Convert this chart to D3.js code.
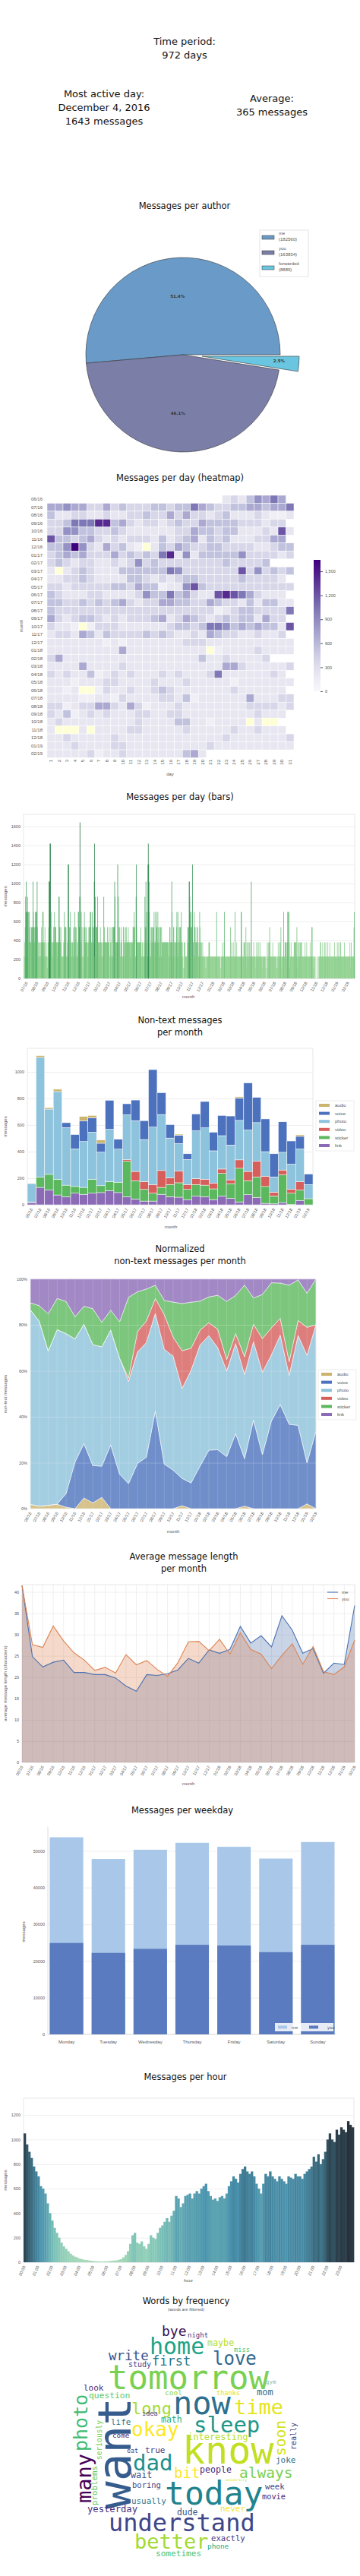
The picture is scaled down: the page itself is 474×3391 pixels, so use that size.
<!DOCTYPE html>
<html>
<head>
<meta charset="utf-8">
<script src="https://cdn.jsdelivr.net/npm/d3@7"></script>
<style>
  body { margin: 0; background: #fff; }
  text { font-family: "DejaVu Sans", sans-serif; }
  .tick text { fill: #555; font-size: 5.5px; font-family: "Liberation Sans", sans-serif; }
  .lbl { fill: #555; font-size: 6px; font-family: "Liberation Sans", sans-serif; }
  .title { font-size: 11.5px; fill: #111; text-anchor: middle; }
</style>
</head>
<body>
<svg id="page" width="474" height="3391"></svg>
<script>
// ---- data ----
const authors = ["me", "you", "forwarded"]
const authorCounts = [182560, 163834, 8889]

const months = ["06/16","07/16","08/16","09/16","10/16","11/16","12/16","01/17","02/17","03/17","04/17","05/17",
  "06/17","07/17","08/17","09/17","10/17","11/17","12/17","01/18","02/18","03/18","04/18","05/18",
  "06/18","07/18","08/18","09/18","10/18","11/18","12/18","01/19","02/19"]
const daysInMonth = [30,31,31,30,31,30,31,31,28,31,30,31,30,31,31,30,31,30,31,31,28,31,30,31,30,31,31,30,31,30,31,31,28]

// heatmap rows, one char per day: digit = level (see levelValues), X = 1643, y = no messages, . = no data
const heatRows = [
  "......................23246575.",
  "5565533534333443447543344554557",
  "4223322322334335353323422232112",
  "3347779945323323433544443332331",
  "3366443343222222335443442223282",
  "8443453232333242345243422233553",
  "446X63253421y243543344333322344",
  "3454533353434379262444446333323",
  "3432332232363433333333433334",
  "2y23432224444447633333338363434",
  "223343222244323234433333433332",
  "3323333344354412268433333333333",
  "432223322223644745322898753222",
  "4433434345323355443354332424422",
  "4333333333333333333331234433337",
  "532344323233345235432343442533",
  "3221y133322222234434776454544283",
  "233254243333434322325433223223",
  "2222222121222222233322222222222",
  "22222222252222222222y1222232222",
  "3522222222222222222422322223",
  "2222522223222222222222553222223",
  "323224123232223232223722222232",
  "2221222332222322232222212222222",
  "2212yy132232234322222223222222",
  "2222112213222233241222222522233",
  "3312335532531222322222222333323",
  "324123232223322332222222223222",
  "2322222222232222442212222y2yy",
  "2yyy2y222233222223222223223222",
  "2232222232222222222222322222223",
  "2223222233222222222232222222222",
  "22222312232222222452"
]
const levelValues = [0, 110, 230, 380, 540, 700, 860, 1020, 1200, 1420]

const mediaTypes = ["audio", "voice", "photo", "video", "sticker", "link"]
const audioCounts   = [3,13,11,17,4,0,31,17,24,0,0,0,0,0,0,0,0,7,0,0,0,0,0,0,9,0,0,0,0,0,0,11,0]
const voiceCounts   = [0,0,0,0,37,107,157,109,66,218,74,83,155,142,432,164,101,63,43,126,198,140,152,218,168,354,190,246,174,229,174,94,78]
const photoCounts   = [138,902,491,660,433,283,345,354,253,393,249,338,382,316,432,421,299,208,188,360,387,242,251,262,297,312,290,186,116,133,188,246,107]
const videoCounts   = [0,0,0,0,0,0,0,0,0,0,0,11,70,59,66,127,50,87,37,44,44,44,33,29,63,70,118,76,28,37,31,64,0]
const stickerCounts = [5,76,118,118,87,51,52,105,52,68,78,267,137,88,59,52,92,109,77,87,87,81,170,111,253,105,155,127,59,208,85,78,46]
const linkCounts    = [17,131,111,74,61,87,79,87,92,107,92,61,44,28,28,79,61,57,39,66,61,39,66,48,22,76,55,11,7,17,2,33,0]

const lengthMe  = [41.5,24.8,22.4,23.5,24,21.1,21.1,20.6,20.6,19.8,17.9,16.7,20.6,20.4,20.8,21.7,24.4,23.3,26.4,25.6,26.5,31.9,28,29.7,27.1,34.4,31,25.6,26.7,20.9,23.3,23,36.8]
const lengthYou = [41.5,27.6,27,32,28.5,25.7,24,21.6,22.3,21,25.3,22.9,23.9,21.8,20.2,23.4,28.3,28.4,26.2,28.9,25.4,30.4,26.5,25.4,22,25.1,27.8,23,27.2,21.3,20.6,22.4,28.7]

const weekdays = ["Monday","Tuesday","Wednesday","Thursday","Friday","Saturday","Sunday"]
const weekdayTotal = [53700,47800,50300,52200,51100,47900,52400]
const weekdayYou   = [24900,22200,23300,24400,24200,22400,24400]

// messages per 10 minutes, six bins per hour
const hourBins = [
  1050,960,900,850,780,740, 700,620,600,560,480,400, 340,280,240,200,160,130, 110,90,70,55,45,38,
  30,25,20,18,15,12, 10,8,8,6,6,8, 8,10,12,14,15,20, 25,40,60,90,150,220,
  240,160,150,170,130,110, 150,220,200,190,240,280, 300,330,360,330,380,420, 540,520,450,480,540,550,
  560,520,560,580,560,600, 620,640,580,540,510,520, 500,530,540,520,560,620, 660,700,680,650,720,760,
  780,740,720,740,700,640, 600,560,640,720,700,740, 700,680,660,700,680,660, 640,700,690,680,720,700,
  700,680,720,740,760,780, 860,820,880,800,840,900, 1000,1050,1000,980,1080,1040, 1100,1080,1060,1150,1120,1100
]
const hourLabels = d3.range(24).map(h => String(h).padStart(2, "0") + ":00")

const words   = ["want","know","tomorrow","today","now","understand","sleep","home","dad","many","time","better","okay","photo","love","long","soon","always","bit","bye","write","first","yesterday","question","interesting","mom","people","boring","wait","math","usually","life","true","look","joke","dude","never","sometimes","week","problems","exactly","movie","maybe","seriously","really","study","cool","come","night","phone","idea","miss","thanks","eat","gym","university"]
const wordSize = [61,50,44,43,42,32,29,30,29,27,27,27,26,25,24,22,19.5,19.5,19,18,17.5,17,12.2,11.3,12,12,11.6,10.5,11.8,11.5,10.9,11,11,11,11,11.4,11,11.1,10.7,10.8,10.6,10.3,11.7,9.6,10,10,9.5,9.3,9,9.4,8.6,8.7,8.6,8.3,7.4,4.7]
const wordColor = ["#365c8d","#c2df23","#7ad151","#21838e","#2d6f8e","#404688","#1f988b","#20a386","#21918c","#440154","#e5e419","#a2da37","#fde725","#3fbc73","#31688e","#a5db36","#d2e21b","#7ad151","#fde725","#3b0f50","#3b528b","#2a788e","#46327e","#5ec962","#b8de29","#2c728e","#482878","#3e4989","#3b528b","#29af7f","#2a788e","#2a788e","#433e85","#472d7b","#2c728e","#39568c","#f1e51d","#4ac16d","#3e4c8a","#5ec962","#453781","#472a7a","#b5de2b","#75d054","#414487","#414487","#86d549","#482576","#46337e","#22a884","#443983","#52c569","#dde318","#3e4989","#8fb8a0","#bddf26"]
// placement: left x, baseline y, rotation
const wordPlace = [
  [172,3303,-90],[240,3243,0],[142,3145,0],[217,3297,0],[228,3178,0],[143,3332,0],[255,3202,0],[197,3099,0],[175,3252,0],[120,3295,-90],[308,3178,0],[177,3355,0],[173,3207,0],[115,3227,-90],[280,3113,0],[173,3178,0],[376,3233,-90],[315,3262,0],[229,3262,0],[213,3075,0],[143,3107,0],[200,3114,0],[115,3307,0],[117,3157,0],[247,3212,0],[338,3153,0],[263,3255,0],[174,3275,0],[172,3262,0],[212,3189,0],[173,3296,0],[146,3192,0],[191,3229,0],[110,3147,0],[363,3242,0],[233,3311,0],[290,3306,0],[205,3365,0],[349,3277,0],[128,3298,-90],[278,3345,0],[345,3290,0],[273,3088,0],[134,3238,-90],[390,3225,-90],[169,3116,0],[217,3153,0],[148,3209,0],[247,3077,0],[273,3355,0],[187,3180,0],[308,3096,0],[285,3153,0],[167,3229,0],[350,3138,0],[297,3266,0]
]

// ---- helpers ----
const svg = d3.select("#page")
const rowVal = c => c === "X" ? 1643 : c === "y" ? 0 : levelValues[+c]

function title(lines, cx, y, size) {
  const t = svg.append("text").attr("class", "title").attr("x", cx).attr("y", y).style("font-size", (size || 11.5) + "px")
  lines.forEach((l, i) => t.append("tspan").attr("x", cx).attr("dy", i ? "1.4em" : 0).text(l))
}

function frame(x0, y0, x1, y1) {
  svg.append("rect").attr("x", x0).attr("y", y0).attr("width", x1 - x0).attr("height", y1 - y0)
    .attr("fill", "none").attr("stroke", "#e2e2e2").attr("stroke-width", 0.8)
}

function yGrid(y, x0, x1, ticks, fmt) {
  const g = svg.append("g").attr("transform", `translate(${x0},0)`)
    .call(d3.axisLeft(y).tickValues(ticks).tickSize(-(x1 - x0)).tickPadding(4).tickFormat(fmt || d3.format("d")))
  g.select(".domain").remove()
  g.selectAll(".tick line").attr("stroke", "#ebebeb").attr("stroke-width", 0.8)
  return g
}

function xRotLabels(labels, xs, y, angle) {
  labels.forEach((l, i) => {
    svg.append("text").attr("class", "lbl").style("font-size", "5.5px")
      .attr("transform", `translate(${xs[i]},${y}) rotate(${angle})`)
      .attr("text-anchor", "end").attr("dy", "0.35em").text(l)
  })
}

function yLabel(text, x, y) {
  svg.append("text").attr("class", "lbl").attr("text-anchor", "middle")
    .attr("transform", `translate(${x},${y}) rotate(-90)`).text(text)
}

// ---- header stats ----
title(["Time period:", "972 days"], 243, 59, 13)
title(["Most active day:", "December 4, 2016", "1643 messages"], 137, 128, 13)
title(["Average:", "365 messages"], 358, 134, 13)

// ---- pie ----
title(["Messages per author"], 243, 275)
const pieColors = ["#6a9bc8", "#7b7fa8", "#6ac6e0"]
const total = d3.sum(authorCounts)
const pie = d3.pie().sort(null).startAngle(Math.PI / 2).endAngle(Math.PI / 2 - 2 * Math.PI)(authorCounts)
const arc = d3.arc().innerRadius(0).outerRadius(128)
const pg = svg.append("g").attr("transform", "translate(241,467)")
pie.forEach((p, i) => {
  const mid = (p.startAngle + p.endAngle) / 2
  const off = i === 2 ? 25 : 0
  const g = pg.append("g").attr("transform", `translate(${off * Math.sin(mid)},${-off * Math.cos(mid)})`)
  g.append("path").attr("d", arc(p)).attr("fill", pieColors[i]).attr("stroke", "#333").attr("stroke-width", 0.6)
  g.append("text").attr("x", 0.6 * 128 * Math.sin(mid) + (i === 2 ? 25 : -4)).attr("y", -0.6 * 128 * Math.cos(mid))
    .attr("text-anchor", "middle").attr("dy", "0.35em").style("font-size", "5.5px").style("font-weight", "bold").attr("fill", "#333")
    .text(d3.format(".1f")(authorCounts[i] / total * 100) + "%")
})
svg.append("rect").attr("x", 342).attr("y", 303).attr("width", 64).attr("height", 61).attr("fill", "#fff").attr("stroke", "#e4e4e4")
authors.forEach((a, i) => {
  const y = 309 + i * 20
  svg.append("rect").attr("x", 345).attr("y", y + 1).attr("width", 16).attr("height", 5).attr("fill", pieColors[i]).attr("stroke", "#333").attr("stroke-width", 0.5)
  svg.append("text").attr("class", "lbl").attr("x", 367).attr("y", y).text(a)
  svg.append("text").attr("class", "lbl").attr("x", 367).attr("y", y + 8).text("(" + authorCounts[i] + ")")
})

// ---- heatmap ----
title(["Messages per day (heatmap)"], 237, 633)
const hx = d3.scaleBand().domain(d3.range(1, 32)).range([62, 387])
const hy = d3.scaleBand().domain(months).range([652, 997.5])
const hColor = d3.scaleSequential(d3.interpolatePurples).domain([-60, 1643])
heatRows.forEach((row, r) => {
  for (let d = 1; d <= daysInMonth[r]; d++) {
    const c = row[d - 1]
    if (!c || c === ".") continue
    svg.append("rect").attr("x", hx(d)).attr("y", hy(months[r])).attr("width", hx.bandwidth()).attr("height", hy.bandwidth())
      .attr("fill", c === "y" ? "#ffffd6" : hColor(rowVal(c))).attr("stroke", "#fff").attr("stroke-width", 0.5)
  }
})
months.forEach(m => svg.append("text").attr("class", "lbl").attr("x", 56).attr("y", hy(m) + hy.bandwidth() / 2).attr("dy", "0.35em").attr("text-anchor", "end").text(m))
d3.range(1, 32).forEach(d => svg.append("text").attr("class", "lbl")
  .attr("transform", `translate(${hx(d) + hx.bandwidth() / 2},1000) rotate(-90)`).attr("text-anchor", "end").attr("dy", "0.35em").text(d))
svg.append("text").attr("class", "lbl").attr("x", 224).attr("y", 1021).attr("text-anchor", "middle").text("day")
yLabel("month", 30, 824)
const grad = svg.append("defs").append("linearGradient").attr("id", "cb").attr("x1", 0).attr("x2", 0).attr("y1", 1).attr("y2", 0)
d3.range(0, 1.01, 0.1).forEach(t => grad.append("stop").attr("offset", t).attr("stop-color", hColor(t * 1643)))
svg.append("rect").attr("x", 413).attr("y", 737).attr("width", 9).attr("height", 173).attr("fill", "url(#cb)")
const cbScale = d3.scaleLinear().domain([0, 1643]).range([910, 737])
svg.append("g").attr("transform", "translate(422,0)").call(d3.axisRight(cbScale).tickValues([0, 300, 600, 900, 1200, 1500]).tickSize(3))
  .call(g => g.select(".domain").remove()).call(g => g.selectAll(".tick line").attr("stroke", "#555"))

// ---- daily bars ----
title(["Messages per day (bars)"], 237, 1053)
const daily = []
heatRows.forEach((row, r) => {
  const [mm, yy] = months[r].split("/")
  for (let d = 1; d <= daysInMonth[r]; d++) {
    const c = row[d - 1]
    if (!c || c === ".") continue
    daily.push({ date: new Date(2000 + +yy, +mm - 1, d), v: rowVal(c) })
  }
})
const bx = d3.scaleTime().domain([new Date(2016, 5, 22), new Date(2019, 1, 21)]).range([31, 467])
const by = d3.scaleLinear().domain([0, 1728]).range([1288, 1072])
frame(31, 1072, 467, 1288)
yGrid(by, 31, 467, d3.range(0, 1601, 200))
const bColor = d3.scaleSequential(t => d3.interpolateGreens(0.35 + 0.6 * t)).domain([0, 1643])
svg.append("g").selectAll("rect").data(daily).join("rect")
  .attr("x", d => bx(d.date)).attr("width", 0.9)
  .attr("y", d => by(d.v)).attr("height", d => by(0) - by(d.v))
  .attr("fill", d => bColor(d.v)).attr("opacity", 0.75)
const tickDates = months.slice(1).map(m => { const [mm, yy] = m.split("/"); return new Date(2000 + +yy, +mm - 1, 1) })
xRotLabels(months.slice(1), tickDates.map(bx), 1293, -60)
svg.append("text").attr("class", "lbl").attr("x", 248).attr("y", 1314).attr("text-anchor", "middle").text("month")
yLabel("messages", 9, 1180)

// ---- non-text stacked bars ----
title(["Non-text messages", "per month"], 237, 1347)
const media = months.map((m, i) => ({ month: m, audio: audioCounts[i], voice: voiceCounts[i], photo: photoCounts[i], video: videoCounts[i], sticker: stickerCounts[i], link: linkCounts[i] }))
const mediaColor = { audio: "#ccb46e", voice: "#4c72be", photo: "#8dc3dc", video: "#d65f5c", sticker: "#5cb85f", link: "#8c6bb6" }
const sx = d3.scaleBand().domain(months).range([36, 412])
const sy = d3.scaleLinear().domain([0, 1177]).range([1586, 1380])
frame(36, 1380, 412, 1586)
yGrid(sy, 36, 412, d3.range(0, 1001, 200))
const stackOrder = ["link", "sticker", "video", "photo", "voice", "audio"]
const stacked = d3.stack().keys(stackOrder)(media)
stacked.forEach(layer => {
  svg.append("g").selectAll("rect").data(layer).join("rect")
    .attr("x", d => sx(d.data.month)).attr("width", sx.bandwidth())
    .attr("y", d => sy(d[1])).attr("height", d => Math.max(0, sy(d[0]) - sy(d[1])))
    .attr("fill", mediaColor[layer.key]).attr("stroke", "#fff").attr("stroke-width", 0.5)
})
xRotLabels(months, months.map(m => sx(m) + sx.bandwidth() / 2), 1591, -60)
svg.append("text").attr("class", "lbl").attr("x", 225).attr("y", 1617).attr("text-anchor", "middle").text("month")
yLabel("messages", 9, 1483)
function mediaLegend(x, y) {
  svg.append("rect").attr("x", x).attr("y", y).attr("width", 50).attr("height", 66).attr("fill", "#fff").attr("stroke", "#eee")
  mediaTypes.forEach((k, i) => {
    svg.append("rect").attr("x", x + 4).attr("y", y + 4 + i * 10.6).attr("width", 14).attr("height", 4).attr("fill", mediaColor[k])
    svg.append("text").attr("class", "lbl").attr("x", x + 25).attr("y", y + 6 + i * 10.6).attr("dy", "0.35em").text(k)
  })
}
mediaLegend(416, 1449)

// ---- normalized area ----
title(["Normalized", "non-text messages per month"], 237, 1648)
const nx = d3.scalePoint().domain(months).range([40, 416])
const ny = d3.scaleLinear().domain([0, 1]).range([1986, 1683.5])
frame(40, 1683.5, 416, 1986)
const normStack = d3.stack().keys(mediaTypes).offset(d3.stackOffsetExpand)(media)
const area = d3.area().x(d => nx(d.data.month)).y0(d => ny(d[0])).y1(d => ny(d[1]))
normStack.forEach(layer => {
  svg.append("path").attr("d", area(layer)).attr("fill", mediaColor[layer.key]).attr("opacity", 0.8)
    .attr("stroke", "#fff").attr("stroke-width", 0.6)
})
const ng = yGrid(ny, 40, 416, [0, 0.2, 0.4, 0.6, 0.8, 1], d3.format(".0%"))
ng.selectAll(".tick line").attr("stroke", "#fff").attr("opacity", 0.25)
months.forEach(m => svg.append("line").attr("x1", nx(m)).attr("x2", nx(m)).attr("y1", 1683.5).attr("y2", 1986).attr("stroke", "#fff").attr("opacity", 0.15))
xRotLabels(months, months.map(nx), 1991, -60)
svg.append("text").attr("class", "lbl").attr("x", 228).attr("y", 2018).attr("text-anchor", "middle").text("month")
yLabel("non-text messages", 9, 1835)
mediaLegend(419, 1803)

// ---- average length ----
title(["Average message length", "per month"], 242, 2053)
const lx = d3.scalePoint().domain(months).range([29, 467])
const ly = d3.scaleLinear().domain([0, 41.7]).range([2320, 2086])
frame(29, 2086, 467, 2320)
yGrid(ly, 29, 467, d3.range(0, 41, 5))
months.forEach(m => svg.append("line").attr("x1", lx(m)).attr("x2", lx(m)).attr("y1", 2086).attr("y2", 2320).attr("stroke", "#ebebeb").attr("stroke-width", 0.8))
const lenSeries = [{ name: "me", vals: lengthMe, color: "#4c72b0" }, { name: "you", vals: lengthYou, color: "#dd8452" }]
lenSeries.forEach(s => {
  svg.append("path").attr("d", d3.area().x((d, i) => lx(months[i])).y0(ly(0)).y1(d => ly(d))(s.vals))
    .attr("fill", s.color).attr("opacity", 0.3)
})
lenSeries.forEach(s => {
  svg.append("path").attr("d", d3.line().x((d, i) => lx(months[i])).y(d => ly(d))(s.vals))
    .attr("fill", "none").attr("stroke", s.color).attr("stroke-width", 1.1)
})
lenSeries.forEach((s, i) => {
  svg.append("line").attr("x1", 431).attr("x2", 445).attr("y1", 2096 + i * 8.5).attr("y2", 2096 + i * 8.5).attr("stroke", s.color).attr("stroke-width", 1.1)
  svg.append("text").attr("class", "lbl").attr("x", 450).attr("y", 2096 + i * 8.5).attr("dy", "0.35em").text(s.name)
})
xRotLabels(months, months.map(lx), 2325, -60)
svg.append("text").attr("class", "lbl").attr("x", 248).attr("y", 2350).attr("text-anchor", "middle").text("month")
yLabel("average message length (characters)", 9, 2216)

// ---- weekday ----
title(["Messages per weekday"], 240, 2387)
const wx = d3.scaleBand().domain(weekdays).range([60, 446]).paddingInner(0.2).paddingOuter(0.1)
const wy = d3.scaleLinear().domain([0, 56500]).range([2678, 2405])
yGrid(wy, 63, 442, d3.range(0, 50001, 10000))
svg.append("line").attr("x1", 63).attr("x2", 63).attr("y1", 2405).attr("y2", 2678).attr("stroke", "#ddd")
svg.append("line").attr("x1", 63).attr("x2", 442).attr("y1", 2678).attr("y2", 2678).attr("stroke", "#ddd")
weekdays.forEach((d, i) => {
  svg.append("rect").attr("x", wx(d)).attr("width", wx.bandwidth()).attr("y", wy(weekdayTotal[i])).attr("height", wy(0) - wy(weekdayTotal[i])).attr("fill", "#a9c8e9")
  svg.append("rect").attr("x", wx(d)).attr("width", wx.bandwidth()).attr("y", wy(weekdayYou[i])).attr("height", wy(0) - wy(weekdayYou[i])).attr("fill", "#5a7bbf")
  svg.append("text").attr("class", "lbl").attr("x", wx(d) + wx.bandwidth() / 2).attr("y", 2688).attr("text-anchor", "middle").attr("dy", "0.35em").text(d)
})
svg.append("rect").attr("x", 362).attr("y", 2663).attr("width", 77).attr("height", 11).attr("fill", "#fff").attr("opacity", 0.85)
;[["me", "#a9c8e9", 366], ["you", "#5a7bbf", 407]].forEach(([n, c, x]) => {
  svg.append("rect").attr("x", x).attr("y", 2666.5).attr("width", 12).attr("height", 4).attr("fill", c)
  svg.append("text").attr("class", "lbl").attr("x", x + 18 + (n === "you" ? 6 : 0)).attr("y", 2668.5).attr("dy", "0.35em").text(n)
})
yLabel("messages", 33, 2543)

// ---- per hour ----
title(["Messages per hour"], 244, 2738)
const hrx = d3.scaleLinear().domain([0, 144]).range([31, 466])
const hry = d3.scaleLinear().domain([0, 1337]).range([2978, 2762])
frame(31, 2762, 466, 2978)
yGrid(hry, 31, 466, d3.range(0, 1201, 200))
const hrColor = d3.scaleLinear().domain([0, 250, 650, 1100]).range(["#a8dab8", "#7fc4b8", "#4a93ae", "#2b3b46"])
svg.append("g").selectAll("rect").data(hourBins).join("rect")
  .attr("x", (d, i) => hrx(i)).attr("width", hrx(1) - hrx(0) + 0.3)
  .attr("y", d => hry(d)).attr("height", d => hry(0) - hry(d)).attr("fill", d => hrColor(d))
xRotLabels(hourLabels, hourLabels.map((h, i) => hrx(i * 6) + 1), 2983, -65)
svg.append("text").attr("class", "lbl").attr("x", 248).attr("y", 3004).attr("text-anchor", "middle").text("hour")
yLabel("messages", 9, 2870)

// ---- word cloud ----
title(["Words by frequency"], 245, 3033)
svg.append("text").attr("x", 245).attr("y", 3042).attr("text-anchor", "middle").style("font-size", "5px").attr("fill", "#333").text("(words are filtered)")
words.forEach((w, i) => {
  const [x, y, rot] = wordPlace[i]
  svg.append("text").attr("transform", `translate(${x},${y}) rotate(${rot})`)
    .style("font-family", "'DejaVu Sans Mono', monospace").style("font-size", wordSize[i] + "px")
    .attr("fill", wordColor[i]).text(w)
})
</script>
</body>
</html>
